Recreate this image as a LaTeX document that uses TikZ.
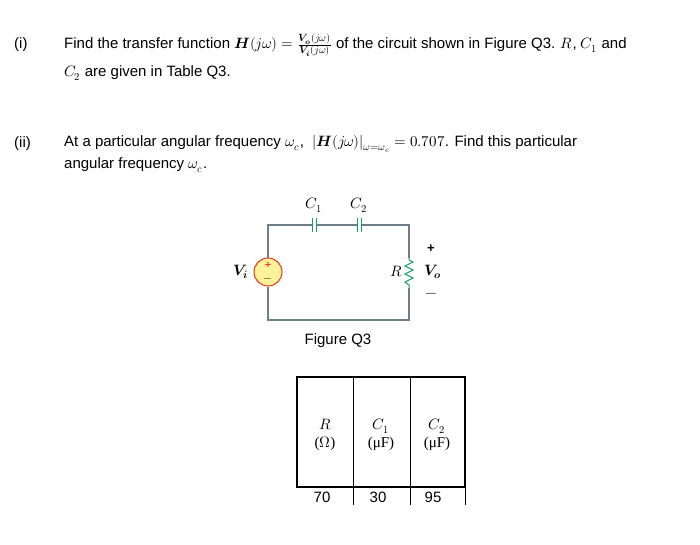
\documentclass[tikz,border=0pt]{standalone}
\usepackage{fontspec}
\setmainfont{Liberation Sans}
\newfontfamily\serifhead{Liberation Serif}
\usepackage{amsmath}
\usepackage{unicode-math}
\setmathfont{Latin Modern Math}
\begin{document}
\begin{tikzpicture}[x=1pt,y=-1pt,
  txt/.style={anchor=west,inner sep=0,font=\fontsize{15}{18}\selectfont},
  lbl/.style={inner sep=0,font=\fontsize{15}{18}\selectfont},
  wire/.style={draw=black!55!cyan!50!gray,line width=1.3pt},
  comp/.style={draw=teal!70!green!80!gray,line width=1pt}]
\useasboundingbox (0,0) rectangle (700,544);
\fill[white] (0,0) rectangle (700,544);
\node[txt] (i) at (14,45) {(i)};
\node[txt] (t1) at (64,45) {Find the transfer function $\symbfit{H}(j\omega)=\frac{\symbfit{V_o}(j\omega)}{\symbfit{V_i}(j\omega)}$ of the circuit shown in Figure Q3. $R$, $C_1$ and};
\node[txt] (t2) at (64,73) {$C_2$ are given in Table Q3.};
\node[txt] (ii) at (14,144) {(ii)};
\node[txt] (t3) at (64,144) {At a particular angular frequency $\omega_c$,\ \ $|\symbfit{H}(j\omega)|_{\omega=\omega_c}=0.707$. Find this particular};
\node[txt] (t4) at (64,165) {angular frequency $\omega_c$.};
% circuit
\coordinate (tl) at (268,225); \coordinate (tr) at (409,225);
\coordinate (bl) at (268,320); \coordinate (br) at (409,320);
\coordinate (c1a) at (312,225); \coordinate (c1b) at (316,225);
\coordinate (c2a) at (357,225); \coordinate (c2b) at (361,225);
\coordinate (ra) at (409,258); \coordinate (rb) at (409,288);
\node[circle,draw=red!60!brown,fill=orange!25!yellow!40,line width=1pt,minimum size=28pt,inner sep=0] (src) at (268,272) {};
\node[inner sep=0,text=red,font=\fontsize{11}{11}\selectfont] (sp) at (268,265) {+};
\node[inner sep=0,font=\fontsize{11}{11}\selectfont] (sm) at (268,280) {$-$};
\draw[wire] (src.north) -- (tl) -- (c1a);
\draw[wire] (c1b) -- (c2a);
\draw[wire] (c2b) -- (tr) -- (ra);
\draw[wire] (rb) -- (br) -- (bl) -- (src.south);
\draw[comp] (312,218) -- (312,232) (316,218) -- (316,232);
\draw[comp] (357,218) -- (357,232) (361,218) -- (361,232);
\draw[comp] (ra) -- (409,260) -- (413,262) -- (405,266) -- (413,270) -- (405,274) -- (413,278) -- (405,282) -- (409,285) -- (rb);
\node[lbl] (lc1) at (314,205) {$C_1$};
\node[lbl] (lc2) at (359,205) {$C_2$};
\node[lbl] (lvi) at (241,272) {$\symbfit{V_i}$};
\node[lbl] (lr) at (396,272) {$R$};
\node[lbl] (lvo) at (433,272) {$\symbfit{V_o}$};
\node[lbl,font=\fontsize{13}{13}\selectfont\bfseries] (lp) at (431,249) {+};
\node[lbl] (lm) at (431,295) {$-$};
\node[lbl] (fig) at (338,341) {Figure Q3};
% table
\draw[line width=1.2pt] (297,377) rectangle (465,487);
\draw[line width=0.8pt] (353,377) -- (353,487) (410,377) -- (410,487);
\draw[line width=0.8pt] (353,487) -- (353,505) (410,487) -- (410,505) (465,487) -- (465,505);
\node[lbl,font=\fontsize{15}{18}\selectfont\serifhead] (h1) at (325,435) {\begin{tabular}{c}$R$\\($\Omega$)\end{tabular}};
\node[lbl,font=\fontsize{15}{18}\selectfont\serifhead] (h2) at (381,435) {\begin{tabular}{c}$C_1$\\(μF)\end{tabular}};
\node[lbl,font=\fontsize{15}{18}\selectfont\serifhead] (h3) at (437,435) {\begin{tabular}{c}$C_2$\\(μF)\end{tabular}};
\node[lbl] (v1) at (322,497) {70};
\node[lbl] (v2) at (378,497) {30};
\node[lbl] (v3) at (433,497) {95};
\end{tikzpicture}
\end{document}
